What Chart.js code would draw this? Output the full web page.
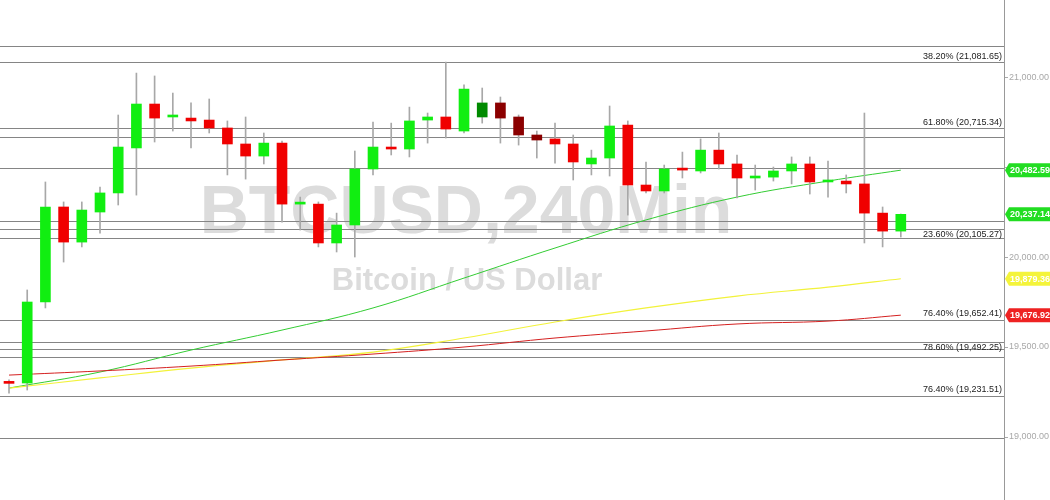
<!DOCTYPE html>
<html>
<head>
<meta charset="utf-8">
<script src="https://cdn.jsdelivr.net/npm/chart.js@4.4.0/dist/chart.umd.min.js"></script>
<style>
  html, body { margin: 0; padding: 0; background: #fff; }
  #wrap { width: 1050px; height: 500px; }
</style>
</head>
<body>
<div id="wrap"><canvas id="myChart"></canvas></div>
<script>
// OHLC candles, 240 minute bars
const opens  = [19302,19300,19750,20278,20083,20250,20356,20606,20850,20778,20772,20761,20717,20628,20561,20633,20294,20294,20078,20178,20489,20611,20600,20761,20778,20700,20778,20856,20778,20678,20656,20628,20517,20550,20733,20400,20367,20489,20478,20594,20517,20439,20444,20478,20517,20417,20422,20406,20244,20144];
const highs  = [19317,19817,20417,20306,20306,20389,20789,21022,21006,20911,20856,20878,20756,20778,20689,20644,20333,20306,20244,20589,20750,20744,20833,20800,21083,20956,20939,20889,20789,20700,20744,20678,20594,20839,20756,20528,20511,20583,20656,20689,20567,20511,20500,20556,20556,20533,20456,20800,20278,20239];
const lows   = [19244,19261,19717,19972,20056,20133,20289,20344,20639,20700,20606,20689,20456,20433,20517,20194,20150,20056,20028,20000,20456,20567,20556,20633,20661,20689,20744,20633,20622,20550,20522,20428,20456,20450,20233,20356,20356,20439,20467,20489,20328,20372,20422,20406,20350,20333,20356,20078,20056,20111];
const closes = [19298,19750,20278,20083,20261,20356,20611,20850,20772,20780,20756,20717,20628,20561,20633,20294,20296,20078,20178,20489,20611,20600,20756,20778,20711,20933,20856,20772,20678,20650,20628,20528,20550,20728,20400,20367,20489,20483,20594,20517,20439,20444,20478,20517,20417,20428,20406,20244,20144,20237.14];
const darkBars = [26, 27, 28, 29];

// moving averages read at a few bar indices
const maIdx    = [0, 5, 10, 15, 20, 25, 30, 35, 40, 45, 49];
const maGreen  = [19272,19361,19483,19594,19717,19883,20050,20206,20333,20422,20482.59];
const maYellow = [19272,19328,19383,19428,19472,19550,19639,19717,19783,19833,19879.36];
const maRed    = [19344,19367,19394,19428,19461,19500,19550,19589,19628,19644,19676.92];

// horizontal levels and their captions
const levels = [21172,21083,20717,20667,20494,20200,20156,20106,19650,19528,19489,19444,19228,18994];
const fibLabels = [
  { text: "38.20% (21,081.65)", value: 21081.65, above: true },
  { text: "61.80% (20,715.34)", value: 20715.34, above: true },
  { text: "23.60% (20,105.27)", value: 20156, above: false },
  { text: "76.40% (19,652.41)", value: 19652.41, above: true },
  { text: "78.60% (19,492.25)", value: 19528, above: false },
  { text: "76.40% (19,231.51)", value: 19231.51, above: true }
];
const yTicks = [19000, 19500, 20000, 20500, 21000];
const badges = [
  { value: 20482.59, color: "#22dd22" },
  { value: 20237.14, color: "#22dd22" },
  { value: 19879.36, color: "#f4f43a" },
  { value: 19676.92, color: "#ee2222" }
];

const fmt = v => v.toLocaleString("en-US", { minimumFractionDigits: 2, maximumFractionDigits: 2 });

const bodyColors = opens.map((o, i) => {
  const up = closes[i] >= o;
  if (darkBars.includes(i)) return up ? "#008a00" : "#8b0000";
  return up ? "#11ee11" : "#f00000";
});

const overlay = {
  id: "overlay",
  beforeDatasetsDraw(chart) {
    const { ctx, chartArea: a, scales: { y } } = chart;
    ctx.save();
    ctx.fillStyle = "#dcdcdc";
    ctx.textAlign = "center";
    ctx.textBaseline = "middle";
    ctx.font = "bold 68px 'Liberation Sans', Arial, sans-serif";
    ctx.fillText("BTCUSD,240Min", 466, 214);
    ctx.font = "bold 31px 'Liberation Sans', Arial, sans-serif";
    ctx.fillText("Bitcoin / US Dollar", 467, 281);
    ctx.strokeStyle = "#858585";
    ctx.lineWidth = 1;
    levels.forEach(v => {
      const py = Math.round(y.getPixelForValue(v)) + 0.5;
      ctx.beginPath();
      ctx.moveTo(a.left, py);
      ctx.lineTo(a.right, py);
      ctx.stroke();
    });
    ctx.fillStyle = "#222";
    ctx.textAlign = "right";
    ctx.font = "9px 'Liberation Sans', Arial, sans-serif";
    fibLabels.forEach(l => {
      const py = y.getPixelForValue(l.value);
      ctx.fillText(l.text, a.right - 2, l.above ? py - 6 : py + 6);
    });
    ctx.restore();
  },
  afterDraw(chart) {
    const { ctx, chartArea: a, scales: { y } } = chart;
    ctx.save();
    ctx.font = "bold 9px 'Liberation Sans', Arial, sans-serif";
    ctx.textBaseline = "middle";
    ctx.textAlign = "left";
    badges.forEach(b => {
      const py = y.getPixelForValue(b.value);
      const x0 = a.right + 1;
      ctx.fillStyle = b.color;
      ctx.beginPath();
      ctx.moveTo(x0, py);
      ctx.lineTo(x0 + 4, py - 7);
      ctx.lineTo(1050, py - 7);
      ctx.lineTo(1050, py + 7);
      ctx.lineTo(x0 + 4, py + 7);
      ctx.closePath();
      ctx.fill();
      ctx.fillStyle = "#fff";
      ctx.fillText(fmt(b.value), x0 + 5, py + 0.5);
    });
    ctx.restore();
  }
};

const idx = opens.map((_, i) => i);

new Chart(document.getElementById("myChart"), {
  type: "bar",
  data: {
    datasets: [
      {
        type: "line", data: maIdx.map((x, i) => ({ x, y: maRed[i] })),
        borderColor: "#d42020", borderWidth: 1, pointRadius: 0, tension: 0.4, order: 3
      },
      {
        type: "line", data: maIdx.map((x, i) => ({ x, y: maYellow[i] })),
        borderColor: "#f2f23a", borderWidth: 1.2, pointRadius: 0, tension: 0.4, order: 3
      },
      {
        type: "line", data: maIdx.map((x, i) => ({ x, y: maGreen[i] })),
        borderColor: "#33cc33", borderWidth: 1, pointRadius: 0, tension: 0.4, order: 3
      },
      {
        data: idx.map(i => ({ x: i, y: [lows[i], highs[i]] })),
        backgroundColor: "#a8a8a8", barThickness: 1, grouped: false, order: 2
      },
      {
        data: idx.map(i => ({ x: i, y: [opens[i], closes[i]] })),
        backgroundColor: bodyColors, barThickness: 10, minBarLength: 2, grouped: false, order: 1
      }
    ]
  },
  options: {
    responsive: true,
    maintainAspectRatio: false,
    animation: false,
    layout: { padding: 0 },
    plugins: { legend: { display: false }, tooltip: { enabled: false } },
    scales: {
      x: {
        type: "linear", min: -0.495, max: 54.67, display: false, offset: false
      },
      y: {
        position: "right", min: 18650, max: 21428,
        afterBuildTicks: s => { s.ticks = yTicks.map(v => ({ value: v })); },
        afterFit: s => { s.width = 46; s.paddingTop = 0; s.paddingBottom = 0; },
        grid: { drawOnChartArea: false, tickLength: 4, color: "#aaa" },
        border: { color: "#999" },
        ticks: {
          color: "#a8a8a8", padding: 1,
          font: { size: 9, family: "'Liberation Sans', Arial, sans-serif" },
          callback: v => fmt(v)
        }
      }
    }
  },
  plugins: [overlay]
});
</script>
</body>
</html>
